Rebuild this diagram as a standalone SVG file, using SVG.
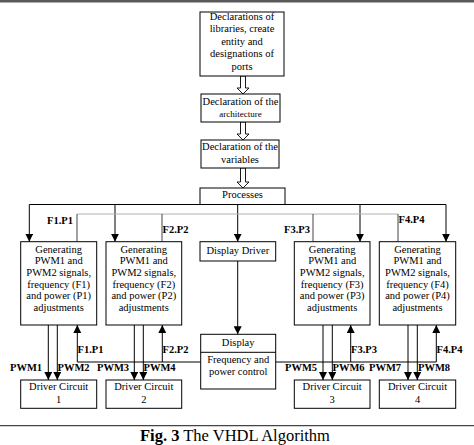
<svg xmlns="http://www.w3.org/2000/svg" width="474" height="445" viewBox="0 0 474 445">
<style>
.box{fill:#fff;stroke:#000;stroke-width:1}
.t{font-family:"Liberation Serif","Times New Roman",serif;font-size:10.5px;fill:#000;text-anchor:middle}
.s{font-size:9px}
.b{font-family:"Liberation Serif","Times New Roman",serif;font-size:10.5px;font-weight:bold;fill:#000}
.ln{fill:none;stroke:#000;stroke-width:1}
.fb{fill:none;stroke:#444;stroke-width:1}
.gr{fill:none;stroke:#b4b4b4;stroke-width:1.2}
.ha{fill:#fff;stroke:#000;stroke-width:0.9}
</style>
<defs>
<marker id="ah2" markerUnits="userSpaceOnUse" markerWidth="8" markerHeight="8" viewBox="0 0 8 8" refX="8" refY="4" orient="auto">
<path d="M0,0 L8,4 L0,8 Z" fill="#000"/>
</marker>
</defs>
<rect x="0" y="0" width="474" height="2.5" fill="#5a5a5a"/>
<line x1="0" y1="425.7" x2="474" y2="425.7" stroke="#444" stroke-width="1.2"/>

<g id="connectors">
<path class="ha" d="M240.5,76 L245.5,76 L245.5,88 L249,88 L243,94 L237,88 L240.5,88 Z"/>
<path class="ha" d="M240.5,122 L245.5,122 L245.5,134 L249,134 L243,140 L237,134 L240.5,134 Z"/>
<path class="ha" d="M240.5,168 L245.5,168 L245.5,182 L249,182 L243,188 L237,182 L240.5,182 Z"/>
<path class="ln" d="M29.3,204.5 L446,204.5"/>
<path class="ln" d="M29.3,204.5 L29.3,241.7" marker-end="url(#ah2)"/>
<path class="ln" d="M115,204.5 L115,241.7" marker-end="url(#ah2)"/>
<path class="ln" d="M237.7,204.5 L237.7,241.7" marker-end="url(#ah2)"/>
<path class="ln" d="M360,204.5 L360,241.7" marker-end="url(#ah2)"/>
<path class="ln" d="M446,204.5 L446,241.7" marker-end="url(#ah2)"/>
<path class="gr" d="M77,214 L398,214"/>
<path class="fb" d="M77,214 L77,241.7 M162,214 L162,241.7 M313,214 L313,241.7 M398,214 L398,241.7"/>
<path class="ln" d="M237.7,261 L237.7,334.3" marker-end="url(#ah2)"/>
<path class="ln" d="M48.3,325 L48.3,380" marker-end="url(#ah2)"/>
<path class="ln" d="M57.3,325 L57.3,380" marker-end="url(#ah2)"/>
<path class="ln" d="M134.3,325 L134.3,380" marker-end="url(#ah2)"/>
<path class="ln" d="M143.3,325 L143.3,380" marker-end="url(#ah2)"/>
<path class="ln" d="M323,325 L323,380" marker-end="url(#ah2)"/>
<path class="ln" d="M332.3,325 L332.3,380" marker-end="url(#ah2)"/>
<path class="ln" d="M408,325 L408,380" marker-end="url(#ah2)"/>
<path class="ln" d="M417.3,325 L417.3,380" marker-end="url(#ah2)"/>
<path class="ln" d="M77.3,362 L200.7,362 M275.7,362 L436.3,362"/>
<path class="ln" d="M77.3,362 L77.3,325" marker-end="url(#ah2)"/>
<path class="ln" d="M162.3,362 L162.3,325" marker-end="url(#ah2)"/>
<path class="ln" d="M350.7,362 L350.7,325" marker-end="url(#ah2)"/>
<path class="ln" d="M436.3,362 L436.3,325" marker-end="url(#ah2)"/>
</g>

<g id="labels">
<text class="b" x="47" y="224">F1.P1</text>
<text class="b" x="162.5" y="233">F2.P2</text>
<text class="b" x="284" y="233">F3.P3</text>
<text class="b" x="398.5" y="223">F4.P4</text>
<text class="b" x="77.5" y="352.5">F1.P1</text>
<text class="b" x="162.5" y="352.5">F2.P2</text>
<text class="b" x="351" y="352.5">F3.P3</text>
<text class="b" x="436.5" y="352.5">F4.P4</text>
<text class="b" x="10" y="370.5">PWM1</text>
<text class="b" x="57.5" y="370.5">PWM2</text>
<text class="b" x="97" y="370.5">PWM3</text>
<text class="b" x="143.5" y="370.5">PWM4</text>
<text class="b" x="285" y="370.5">PWM5</text>
<text class="b" x="332.5" y="370.5">PWM6</text>
<text class="b" x="369" y="370.5">PWM7</text>
<text class="b" x="418" y="370.5">PWM8</text>
</g>

<g id="n_libraries">
<rect class="box" x="200" y="12" width="84" height="64"/>
<text class="t" x="242" y="19.5">Declarations of</text>
<text class="t" x="242" y="32">libraries, create</text>
<text class="t" x="242" y="44.5">entity and</text>
<text class="t" x="242" y="57">designations of</text>
<text class="t" x="242" y="69.5">ports</text>
</g>
<g id="n_architecture">
<rect class="box" x="201" y="94" width="79" height="28"/>
<text class="t" x="240.5" y="104.5">Declaration of the</text>
<text class="t s" x="240.5" y="116.5">architecture</text>
</g>
<g id="n_variables">
<rect class="box" x="201" y="140" width="78" height="28"/>
<text class="t" x="240" y="150">Declaration of the</text>
<text class="t" x="240" y="162.5">variables</text>
</g>
<g id="n_processes">
<rect class="box" x="200" y="188" width="85" height="16.5"/>
<text class="t" x="242.5" y="197.5">Processes</text>
</g>

<g id="n_gen1">
<rect class="box" x="20.7" y="241.7" width="76" height="83.3"/>
<text class="t" x="58.7" y="252.5">Generating</text>
<text class="t" x="58.7" y="264.2">PWM1  and</text>
<text class="t" x="58.7" y="275.8">PWM2 signals,</text>
<text class="t" x="58.7" y="287.5">frequency (F1)</text>
<text class="t" x="58.7" y="299.2">and power (P1)</text>
<text class="t" x="58.7" y="311">adjustments</text>
</g>
<g id="n_gen2">
<rect class="box" x="106" y="241.7" width="75.7" height="83.3"/>
<text class="t" x="143.8" y="252.5">Generating</text>
<text class="t" x="143.8" y="264.2">PWM1  and</text>
<text class="t" x="143.8" y="275.8">PWM2 signals,</text>
<text class="t" x="143.8" y="287.5">frequency (F2)</text>
<text class="t" x="143.8" y="299.2">and power (P2)</text>
<text class="t" x="143.8" y="311">adjustments</text>
</g>
<g id="n_displaydriver">
<rect class="box" x="200" y="241.7" width="75.7" height="19.3"/>
<text class="t" x="237.8" y="253.5">Display Driver</text>
</g>
<g id="n_gen3">
<rect class="box" x="294.3" y="241.7" width="75.7" height="83.3"/>
<text class="t" x="332.2" y="252.5">Generating</text>
<text class="t" x="332.2" y="264.2">PWM1 and</text>
<text class="t" x="332.2" y="275.8">PWM2 signals,</text>
<text class="t" x="332.2" y="287.5">frequency (F3)</text>
<text class="t" x="332.2" y="299.2">and power (P3)</text>
<text class="t" x="332.2" y="311">adjustments</text>
</g>
<g id="n_gen4">
<rect class="box" x="379.3" y="241.7" width="76.4" height="83.3"/>
<text class="t" x="417.5" y="252.5">Generating</text>
<text class="t" x="417.5" y="264.2">PWM1 and</text>
<text class="t" x="417.5" y="275.8">PWM2 signals,</text>
<text class="t" x="417.5" y="287.5">frequency (F4)</text>
<text class="t" x="417.5" y="299.2">and power (P4)</text>
<text class="t" x="417.5" y="311">adjustments</text>
</g>

<g id="n_display">
<rect class="box" x="200.7" y="334.3" width="75" height="54.7"/>
<line x1="200.7" y1="352.3" x2="275.7" y2="352.3" stroke="#000" stroke-width="1"/>
<text class="t" x="238.2" y="345.5">Display</text>
<text class="t" x="238.2" y="363">Frequency and</text>
<text class="t" x="238.2" y="375.3">power control</text>
</g>

<g id="n_driver1">
<rect class="box" x="20.7" y="380" width="76" height="28.3"/>
<text class="t" x="58.7" y="390">Driver Circuit</text>
<text class="t" x="58.7" y="402.8">1</text>
</g>
<g id="n_driver2">
<rect class="box" x="106" y="380" width="75.7" height="28.3"/>
<text class="t" x="143.8" y="390">Driver Circuit</text>
<text class="t" x="143.8" y="402.8">2</text>
</g>
<g id="n_driver3">
<rect class="box" x="294.3" y="380" width="75.7" height="28.3"/>
<text class="t" x="332.2" y="390">Driver Circuit</text>
<text class="t" x="332.2" y="402.8">3</text>
</g>
<g id="n_driver4">
<rect class="box" x="379.3" y="380" width="76.4" height="28.3"/>
<text class="t" x="417.5" y="390">Driver Circuit</text>
<text class="t" x="417.5" y="402.8">4</text>
</g>

<text x="140" y="440.5" font-family="'Liberation Serif','Times New Roman',serif" font-size="16.5" fill="#000"><tspan font-weight="bold">Fig. 3</tspan> The VHDL Algorithm</text>
</svg>
